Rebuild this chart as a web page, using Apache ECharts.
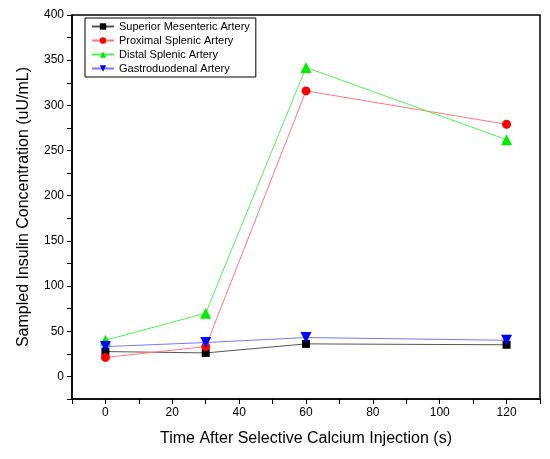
<!DOCTYPE html>
<html>
<head>
<meta charset="UTF-8">
<script src="https://cdn.jsdelivr.net/npm/echarts@6/dist/echarts.min.js"></script>
</head>
<body style="margin:0">
<div id="main" style="width:550px;height:459px;"></div>
<script>
var times = [0, 30, 60, 120];
var names = ['Superior Mesenteric Artery', 'Proximal Splenic Artery', 'Distal Splenic Artery', 'Gastroduodenal Artery'];
var sma = [27.5, 26, 36, 35];
var psa = [21, 33, 316, 279];
var dsa = [40, 70, 342, 262];
var gda = [33, 37.5, 43, 40];

var colors = ['#000000', '#ff0000', '#00ee00', '#0000ff'];
var lineColors = ['#555555', '#ff7777', '#55ee55', '#7777ff'];
var symbols = ['rect', 'circle', 'triangle', 'path://M0,0 L10,0 L5,9 Z'];
var sizes = [8, 9, 11, 11];
var values = [sma, psa, dsa, gda];

var series = names.map(function (n, i) {
    return {
        name: n, type: 'line',
        data: times.map(function (t, j) { return [t, values[i][j]]; }),
        symbol: symbols[i], symbolSize: sizes[i],
        itemStyle: {color: colors[i]},
        lineStyle: {color: lineColors[i], width: 1}
    };
});

var axisLine = {onZero: false, lineStyle: {color: '#000', width: 1.5}};
var axisTick = {length: 5, lineStyle: {color: '#000'}};
var nameStyle = {color: '#000', fontSize: 16, fontFamily: 'Arial'};

var myChart = echarts.init(document.getElementById('main'));
myChart.setOption({
    animation: false,
    grid: {left: 72, right: 10, top: 15, bottom: 60, show: true, borderColor: '#000', borderWidth: 1.5},
    legend: {
        orient: 'vertical', left: 85, top: 18, itemGap: 3, itemWidth: 22, itemHeight: 8,
        borderColor: '#000', borderWidth: 1, padding: [3, 6],
        textStyle: {fontSize: 11, fontFamily: 'Arial', color: '#000'},
        data: names
    },
    xAxis: {
        type: 'value', min: -10, max: 130, interval: 10,
        name: 'Time After Selective Calcium Injection (s)', nameGap: 32,
        nameLocation: 'middle', nameTextStyle: nameStyle,
        axisLine: axisLine, axisTick: axisTick, splitLine: {show: false},
        axisLabel: {color: '#000', fontSize: 12, fontFamily: 'Arial',
            formatter: function (v) { return v >= 0 && v <= 120 && v % 20 === 0 ? v : ''; }}
    },
    yAxis: {
        type: 'value', min: -25, max: 400, interval: 25,
        name: 'Sampled Insulin Concentration (uU/mL)', nameGap: 40,
        nameLocation: 'middle', nameTextStyle: nameStyle,
        axisLine: axisLine, axisTick: axisTick, splitLine: {show: false},
        axisLabel: {color: '#000', fontSize: 12, fontFamily: 'Arial',
            formatter: function (v) { return v >= 0 && v % 50 === 0 ? v : ''; }}
    },
    series: series
});
</script>
</body>
</html>
